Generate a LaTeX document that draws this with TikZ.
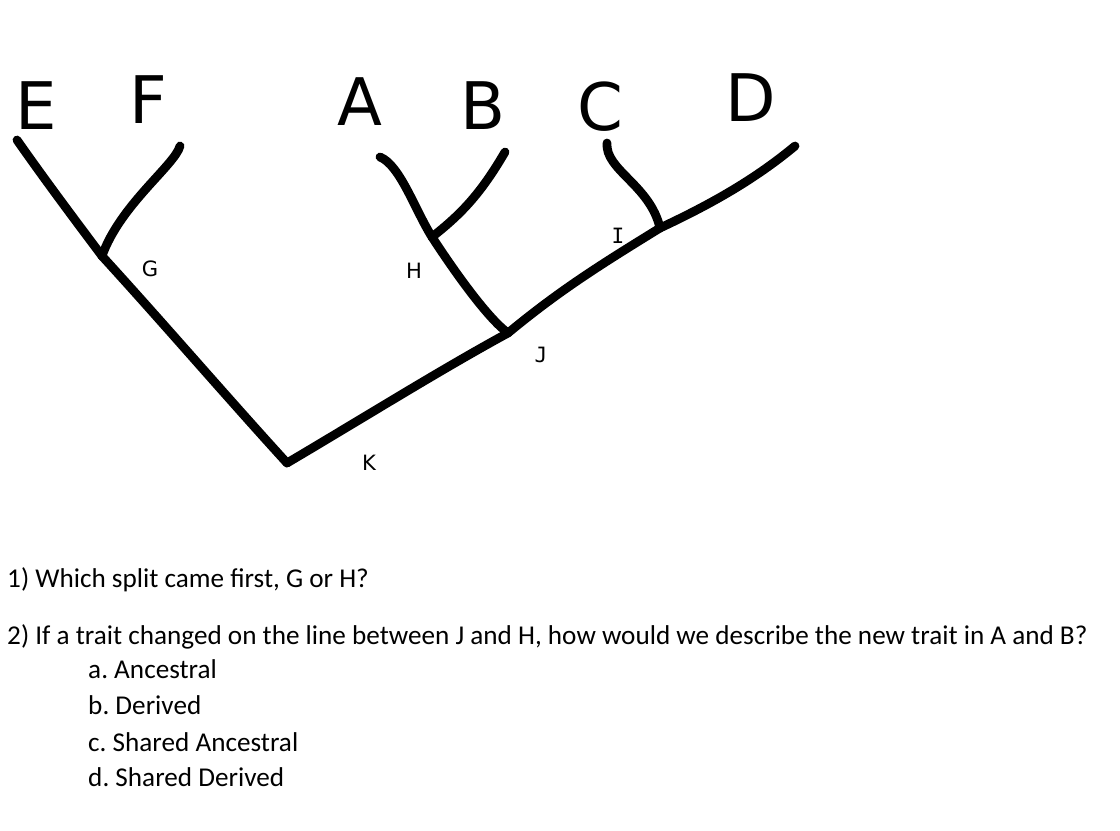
\documentclass[tikz,border=0pt]{standalone}
\usepackage{fontspec}
\setmainfont{Carlito}
\newfontfamily\tipfont{DejaVu Sans}
\newfontfamily\splitfont{DejaVu Sans}
\newfontfamily\splitmono{DejaVu Sans Mono}
\frenchspacing
\begin{document}
\begin{tikzpicture}[x=0.03cm,y=-0.03cm]
\tikzstyle{every node}+=[inner sep=0pt]
\tikzstyle{branch}=[black,line width=7.5pt,line cap=round,line join=round]
\tikzstyle{taxon}=[font=\tipfont\fontsize{56}{56}\selectfont]
\tikzstyle{split}=[font=\splitfont\fontsize{18}{18}\selectfont]
\tikzstyle{splitm}=[font=\splitmono\fontsize{18}{18}\selectfont]
\tikzstyle{question}=[anchor=west,font=\fontsize{23.2}{23.2}\selectfont]
\useasboundingbox (0,0) rectangle (1120,830);
% tips and splits
\coordinate (tE) at (17,140);
\coordinate (tF) at (180,146);
\coordinate (tA) at (380,157);
\coordinate (tB) at (505,152);
\coordinate (tC) at (607,143);
\coordinate (tD) at (795,146);
\coordinate (nG) at (102,256);
\coordinate (nH) at (432,237);
\coordinate (nI) at (660,228);
\coordinate (nJ) at (508,333);
\coordinate (nK) at (287,463);
% branches
\draw [branch] (tE) .. controls (45,180) and (75,220) .. (nG);
\draw [branch] (tF) .. controls (175,165) and (120,205) .. (nG);
\draw [branch] (nG) .. controls (165,325) and (225,395) .. (nK);
\draw [branch] (nK) .. controls (360,420) and (440,370) .. (nJ);
\draw [branch] (nJ) .. controls (560,290) and (600,265) .. (nI);
\draw [branch] (nI) .. controls (720,200) and (760,175) .. (tD);
\draw [branch] (tC) .. controls (605,170) and (650,185) .. (nI);
\draw [branch] (tA) .. controls (400,165) and (415,210) .. (nH);
\draw [branch] (tB) .. controls (480,195) and (460,215) .. (nH);
\draw [branch] (nH) .. controls (460,280) and (490,320) .. (nJ);
% tip labels
\node [taxon] (lE) at (36,106) {E};
\node [taxon] (lF) at (148,100) {F};
\node [taxon] (lA) at (360,102) {A};
\node [taxon] (lB) at (483,106) {B};
\node [taxon] (lC) at (600,107) {C};
\node [taxon] (lD) at (751,98) {D};
% split labels
\node [split] (lG) at (150,269) {G};
\node [split] (lH) at (414,271) {H};
\node [splitm] (lI) at (618,236) {I};
\node [splitm] (lJ) at (541,355) {J};
\node [split] (lK) at (369,463) {K};
% questions
\node [question] (q1) at (7,580) {1) Which split came first, G or H?};
\node [question] (q2) at (7,637) {2) If a trait changed on the line between J and H, how would we describe the new trait in A and B?};
\node [question] (qa) at (88,669) {a. Ancestral};
\node [question] (qb) at (88,705) {b. Derived};
\node [question] (qc) at (88,742) {c. Shared Ancestral};
\node [question] (qd) at (88,777) {d. Shared Derived};
\end{tikzpicture}
\end{document}
